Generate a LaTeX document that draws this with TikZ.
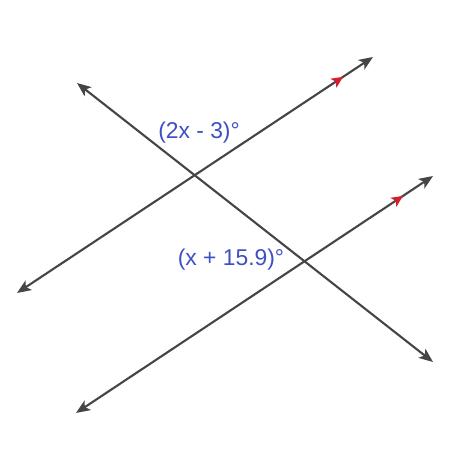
\documentclass[tikz,border=0pt]{standalone}
\usepackage{fontspec}
\setsansfont{Liberation Sans}
\usetikzlibrary{arrows.meta,decorations.markings}
\definecolor{linegray}{HTML}{454545}
\definecolor{labelblue}{HTML}{3D4FC6}
\definecolor{markred}{HTML}{D2202C}

\begin{document}
\begin{tikzpicture}[x=0.02cm,y=-0.02cm,
        line/.style={line width=1.2pt,linegray,{Stealth[length=8pt,width=6.5pt,inset=2pt]}-{Stealth[length=8pt,width=6.5pt,inset=2pt]}},
        parmark/.style={postaction={decorate},decoration={markings,
            mark=at position 0.916 with {\arrow{Stealth[color=markred,length=6.5pt,width=6pt,inset=1.5pt]}}}},
        angle/.style={text=labelblue,font=\sffamily\fontsize{13}{15}\selectfont,inner sep=0pt}]
        \useasboundingbox (0,0) rectangle (474,469);
        % parallel lines
        \coordinate (upA) at (17,293);
        \coordinate (upB) at (373,57);
        \coordinate (loA) at (76,413);
        \coordinate (loB) at (433,176);
        % transversal
        \coordinate (trA) at (77,83);
        \coordinate (trB) at (433,362);
        \draw[line,parmark] (upA) -- (upB);
        \draw[line,parmark] (loA) -- (loB);
        \draw[line] (trA) -- (trB);
        \node[angle] (angUp) at (199,133) {(2x - 3)°};
        \node[angle] (angLo) at (231,260) {(x + 15.9)°};
\end{tikzpicture}
\end{document}
